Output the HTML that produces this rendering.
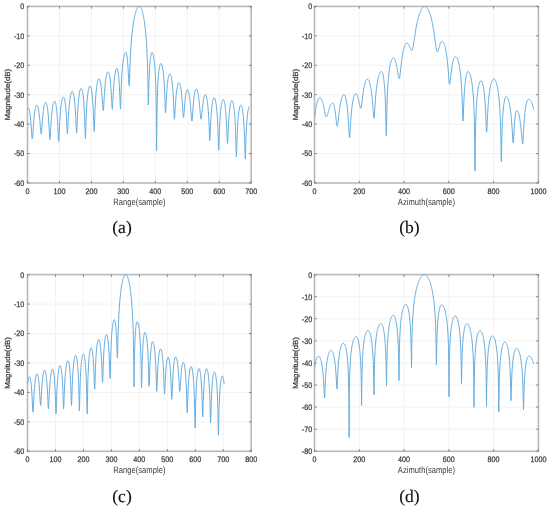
<!DOCTYPE html>
<html><head><meta charset="utf-8"><title>Figure</title><style>
html,body{margin:0;padding:0;background:#fff;}
body{width:550px;height:507px;overflow:hidden;}
svg{display:block;}
.gr{stroke:#f2f2f2;stroke-width:1.0;fill:none;}
.ax{stroke:#b9b9b9;stroke-width:1.6;fill:none;}
.tk{stroke:#808080;stroke-width:1;}
.cv{stroke:#66ade0;stroke-width:1.0;fill:none;stroke-linejoin:round;}
text{font-family:"Liberation Sans",Arial,sans-serif;fill:#3a3a3a;text-rendering:geometricPrecision;}
.xt{font-size:8.0px;text-anchor:middle;stroke:#3a3a3a;stroke-width:0.25;}
.yt{font-size:8.0px;text-anchor:end;stroke:#3a3a3a;stroke-width:0.25;}
.xl{font-size:9.2px;text-anchor:middle;}
.yl{font-size:9.2px;text-anchor:middle;stroke:#3a3a3a;stroke-width:0.3;}
.cap{font-family:"Liberation Serif","Times New Roman",serif;font-size:17.5px;text-anchor:middle;fill:#111;stroke:#111;stroke-width:0.15;}
</style></head>
<body><svg width="550" height="507" viewBox="0 0 550 507">
<rect x="0" y="0" width="550" height="507" fill="#fff"/>
<line x1="59.46" y1="6.4" x2="59.46" y2="183" class="gr"/>
<line x1="91.41" y1="6.4" x2="91.41" y2="183" class="gr"/>
<line x1="123.37" y1="6.4" x2="123.37" y2="183" class="gr"/>
<line x1="155.33" y1="6.4" x2="155.33" y2="183" class="gr"/>
<line x1="187.29" y1="6.4" x2="187.29" y2="183" class="gr"/>
<line x1="219.24" y1="6.4" x2="219.24" y2="183" class="gr"/>
<line x1="27.5" y1="35.83" x2="251.2" y2="35.83" class="gr"/>
<line x1="27.5" y1="65.27" x2="251.2" y2="65.27" class="gr"/>
<line x1="27.5" y1="94.7" x2="251.2" y2="94.7" class="gr"/>
<line x1="27.5" y1="124.13" x2="251.2" y2="124.13" class="gr"/>
<line x1="27.5" y1="153.57" x2="251.2" y2="153.57" class="gr"/>
<rect x="27.5" y="6.4" width="223.7" height="176.6" class="ax"/>
<line x1="27.5" y1="183" x2="27.5" y2="180.8" class="tk"/>
<line x1="27.5" y1="6.4" x2="27.5" y2="8.6" class="tk"/>
<text transform="translate(27.5,193.6) scale(0.9,1)" class="xt">0</text>
<line x1="59.46" y1="183" x2="59.46" y2="180.8" class="tk"/>
<line x1="59.46" y1="6.4" x2="59.46" y2="8.6" class="tk"/>
<text transform="translate(59.46,193.6) scale(0.9,1)" class="xt">100</text>
<line x1="91.41" y1="183" x2="91.41" y2="180.8" class="tk"/>
<line x1="91.41" y1="6.4" x2="91.41" y2="8.6" class="tk"/>
<text transform="translate(91.41,193.6) scale(0.9,1)" class="xt">200</text>
<line x1="123.37" y1="183" x2="123.37" y2="180.8" class="tk"/>
<line x1="123.37" y1="6.4" x2="123.37" y2="8.6" class="tk"/>
<text transform="translate(123.37,193.6) scale(0.9,1)" class="xt">300</text>
<line x1="155.33" y1="183" x2="155.33" y2="180.8" class="tk"/>
<line x1="155.33" y1="6.4" x2="155.33" y2="8.6" class="tk"/>
<text transform="translate(155.33,193.6) scale(0.9,1)" class="xt">400</text>
<line x1="187.29" y1="183" x2="187.29" y2="180.8" class="tk"/>
<line x1="187.29" y1="6.4" x2="187.29" y2="8.6" class="tk"/>
<text transform="translate(187.29,193.6) scale(0.9,1)" class="xt">500</text>
<line x1="219.24" y1="183" x2="219.24" y2="180.8" class="tk"/>
<line x1="219.24" y1="6.4" x2="219.24" y2="8.6" class="tk"/>
<text transform="translate(219.24,193.6) scale(0.9,1)" class="xt">600</text>
<line x1="251.2" y1="183" x2="251.2" y2="180.8" class="tk"/>
<line x1="251.2" y1="6.4" x2="251.2" y2="8.6" class="tk"/>
<text transform="translate(251.2,193.6) scale(0.9,1)" class="xt">700</text>
<line x1="27.5" y1="6.4" x2="29.7" y2="6.4" class="tk"/>
<line x1="251.2" y1="6.4" x2="249" y2="6.4" class="tk"/>
<text transform="translate(24.3,9.3) scale(0.9,1)" class="yt">0</text>
<line x1="27.5" y1="35.83" x2="29.7" y2="35.83" class="tk"/>
<line x1="251.2" y1="35.83" x2="249" y2="35.83" class="tk"/>
<text transform="translate(24.3,38.73) scale(0.9,1)" class="yt">-10</text>
<line x1="27.5" y1="65.27" x2="29.7" y2="65.27" class="tk"/>
<line x1="251.2" y1="65.27" x2="249" y2="65.27" class="tk"/>
<text transform="translate(24.3,68.17) scale(0.9,1)" class="yt">-20</text>
<line x1="27.5" y1="94.7" x2="29.7" y2="94.7" class="tk"/>
<line x1="251.2" y1="94.7" x2="249" y2="94.7" class="tk"/>
<text transform="translate(24.3,97.6) scale(0.9,1)" class="yt">-30</text>
<line x1="27.5" y1="124.13" x2="29.7" y2="124.13" class="tk"/>
<line x1="251.2" y1="124.13" x2="249" y2="124.13" class="tk"/>
<text transform="translate(24.3,127.03) scale(0.9,1)" class="yt">-40</text>
<line x1="27.5" y1="153.57" x2="29.7" y2="153.57" class="tk"/>
<line x1="251.2" y1="153.57" x2="249" y2="153.57" class="tk"/>
<text transform="translate(24.3,156.47) scale(0.9,1)" class="yt">-50</text>
<line x1="27.5" y1="183" x2="29.7" y2="183" class="tk"/>
<line x1="251.2" y1="183" x2="249" y2="183" class="tk"/>
<text transform="translate(24.3,185.9) scale(0.9,1)" class="yt">-60</text>
<path class="cv" d="M28.20,107.80 L28.46,107.91 L28.71,108.25 L28.97,108.82 L29.22,109.63 L29.48,110.70 L29.74,112.03 L29.99,113.65 L30.25,115.59 L30.51,117.88 L30.76,120.55 L31.02,123.63 L31.27,127.11 L31.53,130.91 L31.79,134.71 L32.04,137.77 L32.30,139.00 L32.55,137.78 L32.80,134.72 L33.05,130.91 L33.30,127.07 L33.55,123.53 L33.80,120.37 L34.05,117.59 L34.30,115.18 L34.55,113.09 L34.80,111.29 L35.05,109.77 L35.30,108.48 L35.55,107.42 L35.80,106.57 L36.05,105.92 L36.30,105.46 L36.55,105.19 L36.80,105.10 L37.06,105.20 L37.32,105.49 L37.58,105.99 L37.84,106.69 L38.09,107.60 L38.35,108.74 L38.61,110.12 L38.87,111.75 L39.13,113.66 L39.39,115.87 L39.65,118.39 L39.91,121.21 L40.16,124.31 L40.42,127.54 L40.68,130.59 L40.94,132.91 L41.20,133.80 L41.45,132.80 L41.70,130.24 L41.95,126.91 L42.20,123.45 L42.45,120.17 L42.70,117.19 L42.95,114.55 L43.20,112.23 L43.45,110.21 L43.70,108.46 L43.95,106.97 L44.20,105.72 L44.45,104.68 L44.70,103.85 L44.95,103.21 L45.20,102.76 L45.45,102.49 L45.70,102.40 L45.96,102.52 L46.23,102.87 L46.49,103.46 L46.75,104.31 L47.01,105.42 L47.27,106.81 L47.54,108.53 L47.80,110.59 L48.06,113.05 L48.33,115.97 L48.59,119.41 L48.85,123.46 L49.11,128.12 L49.38,133.17 L49.64,137.71 L49.90,139.70 L50.16,137.95 L50.42,133.83 L50.68,129.08 L50.94,124.59 L51.21,120.61 L51.47,117.16 L51.73,114.19 L51.99,111.64 L52.25,109.45 L52.51,107.58 L52.77,106.00 L53.03,104.67 L53.29,103.58 L53.56,102.71 L53.82,102.04 L54.08,101.57 L54.34,101.29 L54.60,101.20 L54.86,101.32 L55.11,101.67 L55.37,102.28 L55.62,103.13 L55.88,104.26 L56.14,105.68 L56.39,107.42 L56.65,109.53 L56.91,112.05 L57.16,115.06 L57.42,118.64 L57.68,122.91 L57.93,127.95 L58.19,133.62 L58.44,139.01 L58.70,141.50 L58.95,139.03 L59.21,133.66 L59.46,127.96 L59.71,122.87 L59.96,118.51 L60.22,114.79 L60.47,111.63 L60.72,108.92 L60.97,106.60 L61.23,104.61 L61.48,102.92 L61.73,101.48 L61.98,100.27 L62.24,99.27 L62.49,98.48 L62.74,97.87 L62.99,97.44 L63.25,97.18 L63.50,97.10 L63.76,97.23 L64.02,97.63 L64.28,98.31 L64.54,99.27 L64.80,100.53 L65.06,102.14 L65.32,104.11 L65.58,106.50 L65.84,109.36 L66.10,112.79 L66.36,116.84 L66.62,121.56 L66.88,126.76 L67.14,131.50 L67.40,133.60 L67.66,131.50 L67.92,126.75 L68.17,121.51 L68.43,116.68 L68.69,112.48 L68.95,108.87 L69.21,105.77 L69.46,103.11 L69.72,100.82 L69.98,98.85 L70.24,97.17 L70.49,95.74 L70.75,94.55 L71.01,93.56 L71.27,92.77 L71.53,92.16 L71.78,91.74 L72.04,91.48 L72.30,91.40 L72.55,91.51 L72.81,91.82 L73.06,92.36 L73.31,93.11 L73.56,94.11 L73.82,95.36 L74.07,96.89 L74.32,98.73 L74.58,100.92 L74.83,103.51 L75.08,106.58 L75.34,110.21 L75.59,114.50 L75.84,119.54 L76.09,125.20 L76.35,130.54 L76.60,133.00 L76.86,130.24 L77.11,124.41 L77.37,118.43 L77.62,113.18 L77.88,108.74 L78.13,105.00 L78.39,101.84 L78.64,99.16 L78.90,96.88 L79.16,94.94 L79.41,93.31 L79.67,91.95 L79.92,90.83 L80.18,89.94 L80.43,89.26 L80.69,88.78 L80.94,88.49 L81.20,88.40 L81.46,88.52 L81.73,88.89 L81.99,89.50 L82.25,90.38 L82.51,91.54 L82.78,93.01 L83.04,94.81 L83.30,97.01 L83.56,99.66 L83.83,102.87 L84.09,106.77 L84.35,111.56 L84.61,117.52 L84.88,124.98 L85.14,133.54 L85.40,138.50 L85.66,133.71 L85.91,125.33 L86.17,117.92 L86.42,111.93 L86.68,107.09 L86.93,103.10 L87.19,99.79 L87.44,97.00 L87.70,94.65 L87.96,92.67 L88.21,91.00 L88.47,89.61 L88.72,88.47 L88.98,87.56 L89.23,86.87 L89.49,86.38 L89.74,86.10 L90.00,86.00 L90.26,86.12 L90.53,86.48 L90.79,87.09 L91.05,87.96 L91.31,89.11 L91.58,90.56 L91.84,92.34 L92.10,94.50 L92.36,97.11 L92.62,100.24 L92.89,104.02 L93.15,108.61 L93.41,114.20 L93.67,120.90 L93.94,127.95 L94.20,131.60 L94.46,126.75 L94.72,118.30 L94.98,110.85 L95.24,104.85 L95.51,100.00 L95.77,96.01 L96.03,92.70 L96.29,89.91 L96.55,87.55 L96.81,85.57 L97.07,83.90 L97.33,82.51 L97.59,81.37 L97.86,80.46 L98.12,79.77 L98.38,79.28 L98.64,79.00 L98.90,78.90 L99.16,79.00 L99.42,79.30 L99.68,79.81 L99.94,80.53 L100.19,81.47 L100.45,82.64 L100.71,84.07 L100.97,85.77 L101.23,87.77 L101.49,90.10 L101.75,92.78 L102.01,95.84 L102.26,99.26 L102.52,102.95 L102.78,106.58 L103.04,109.46 L103.30,110.60 L103.56,108.81 L103.82,104.61 L104.08,99.80 L104.34,95.27 L104.61,91.27 L104.87,87.80 L105.13,84.82 L105.39,82.25 L105.65,80.06 L105.91,78.19 L106.17,76.60 L106.43,75.27 L106.69,74.18 L106.96,73.31 L107.22,72.64 L107.48,72.17 L107.74,71.89 L108.00,71.80 L108.25,71.90 L108.51,72.22 L108.76,72.74 L109.01,73.48 L109.26,74.46 L109.52,75.69 L109.77,77.18 L110.02,78.97 L110.28,81.10 L110.53,83.60 L110.78,86.53 L111.04,89.95 L111.29,93.93 L111.54,98.43 L111.79,103.22 L112.05,107.41 L112.30,109.20 L112.56,107.11 L112.81,102.39 L113.07,97.17 L113.32,92.37 L113.58,88.21 L113.83,84.63 L114.09,81.58 L114.34,78.97 L114.60,76.75 L114.86,74.85 L115.11,73.24 L115.37,71.90 L115.62,70.80 L115.88,69.92 L116.13,69.25 L116.39,68.78 L116.64,68.49 L116.90,68.40 L117.16,68.55 L117.41,69.02 L117.67,69.81 L117.93,70.94 L118.19,72.45 L118.44,74.36 L118.70,76.74 L118.96,79.67 L119.21,83.26 L119.47,87.65 L119.73,93.00 L119.99,99.34 L120.24,105.84 L120.50,109.10 L120.76,103.80 L121.02,94.88 L121.28,87.20 L121.54,81.06 L121.80,76.10 L122.06,72.02 L122.32,68.60 L122.58,65.70 L122.84,63.23 L123.10,61.11 L123.36,59.29 L123.62,57.74 L123.88,56.42 L124.14,55.31 L124.40,54.40 L124.66,53.67 L124.92,53.11 L125.18,52.71 L125.44,52.48 L125.70,52.40 L125.97,52.57 L126.24,53.10 L126.51,53.98 L126.78,55.25 L127.05,56.93 L127.32,59.08 L127.58,61.74 L127.85,65.00 L128.12,68.93 L128.39,73.57 L128.66,78.73 L128.93,83.48 L129.20,85.60 L129.45,82.06 L129.70,74.76 L129.96,67.45 L130.21,61.09 L130.46,55.64 L130.72,50.95 L130.97,46.84 L131.22,43.20 L131.47,39.95 L131.72,37.01 L131.98,34.34 L132.23,31.90 L132.48,29.66 L132.73,27.59 L132.99,25.68 L133.24,23.91 L133.49,22.27 L133.75,20.74 L134.00,19.33 L134.25,18.01 L134.50,16.78 L134.75,15.64 L135.01,14.58 L135.26,13.60 L135.51,12.70 L135.77,11.86 L136.02,11.10 L136.27,10.39 L136.52,9.76 L136.78,9.18 L137.03,8.66 L137.28,8.20 L137.53,7.80 L137.78,7.45 L138.04,7.16 L138.29,6.92 L138.54,6.74 L138.80,6.61 L139.05,6.53 L139.30,6.50 L139.55,6.53 L139.80,6.63 L140.05,6.79 L140.30,7.02 L140.55,7.32 L140.80,7.68 L141.05,8.11 L141.30,8.61 L141.55,9.18 L141.80,9.83 L142.05,10.55 L142.30,11.35 L142.55,12.24 L142.80,13.21 L143.05,14.27 L143.30,15.42 L143.55,16.67 L143.80,18.04 L144.05,19.51 L144.30,21.12 L144.55,22.86 L144.80,24.75 L145.05,26.80 L145.30,29.05 L145.55,31.51 L145.80,34.21 L146.05,37.21 L146.30,40.56 L146.55,44.34 L146.80,48.67 L147.05,53.73 L147.30,59.81 L147.55,67.41 L147.80,77.49 L148.05,91.80 L148.30,105.00 L148.56,97.81 L148.83,87.33 L149.09,79.12 L149.36,72.88 L149.62,68.02 L149.89,64.15 L150.15,61.05 L150.41,58.56 L150.68,56.57 L150.94,55.02 L151.21,53.85 L151.47,53.04 L151.74,52.56 L152.00,52.40 L152.26,52.50 L152.51,52.79 L152.77,53.29 L153.02,53.99 L153.28,54.91 L153.53,56.08 L153.79,57.50 L154.04,59.21 L154.30,61.25 L154.56,63.69 L154.81,66.60 L155.07,70.10 L155.32,74.39 L155.58,79.78 L155.83,86.87 L156.09,96.97 L156.34,114.04 L156.60,150.70 L156.85,122.90 L157.11,106.42 L157.36,96.46 L157.61,89.44 L157.86,84.10 L158.12,79.87 L158.37,76.42 L158.62,73.58 L158.88,71.22 L159.13,69.26 L159.38,67.64 L159.64,66.33 L159.89,65.29 L160.14,64.49 L160.39,63.94 L160.65,63.61 L160.90,63.50 L161.16,63.60 L161.41,63.88 L161.67,64.37 L161.92,65.05 L162.18,65.96 L162.43,67.09 L162.69,68.47 L162.94,70.13 L163.20,72.10 L163.46,74.42 L163.71,77.18 L163.97,80.44 L164.22,84.34 L164.48,89.05 L164.73,94.78 L164.99,101.67 L165.24,109.02 L165.50,112.90 L165.75,110.86 L166.01,106.23 L166.26,101.08 L166.51,96.35 L166.76,92.24 L167.02,88.73 L167.27,85.74 L167.52,83.20 L167.78,81.04 L168.03,79.23 L168.28,77.72 L168.54,76.48 L168.79,75.50 L169.04,74.75 L169.29,74.22 L169.55,73.90 L169.80,73.80 L170.06,73.89 L170.31,74.18 L170.57,74.66 L170.82,75.34 L171.08,76.24 L171.33,77.36 L171.59,78.72 L171.84,80.36 L172.10,82.30 L172.36,84.59 L172.61,87.28 L172.87,90.47 L173.12,94.24 L173.38,98.72 L173.63,104.06 L173.89,110.20 L174.14,116.27 L174.40,119.20 L174.65,117.70 L174.90,114.07 L175.15,109.73 L175.40,105.52 L175.65,101.72 L175.90,98.39 L176.15,95.49 L176.40,92.99 L176.65,90.85 L176.90,89.01 L177.15,87.44 L177.40,86.13 L177.65,85.06 L177.90,84.19 L178.15,83.53 L178.40,83.07 L178.65,82.79 L178.90,82.70 L179.16,82.79 L179.41,83.07 L179.67,83.53 L179.92,84.18 L180.18,85.04 L180.43,86.10 L180.69,87.40 L180.94,88.94 L181.20,90.75 L181.46,92.87 L181.71,95.31 L181.97,98.14 L182.22,101.37 L182.48,105.01 L182.73,109.00 L182.99,113.01 L183.24,116.28 L183.50,117.60 L183.76,116.54 L184.02,113.83 L184.28,110.39 L184.54,106.88 L184.80,103.62 L185.06,100.73 L185.32,98.22 L185.58,96.08 L185.84,94.28 L186.10,92.81 L186.36,91.63 L186.62,90.73 L186.88,90.10 L187.14,89.72 L187.40,89.60 L187.65,89.69 L187.90,89.96 L188.15,90.41 L188.40,91.05 L188.65,91.88 L188.90,92.92 L189.15,94.18 L189.40,95.67 L189.65,97.42 L189.90,99.44 L190.15,101.77 L190.40,104.42 L190.65,107.40 L190.90,110.69 L191.15,114.16 L191.40,117.51 L191.65,120.10 L191.90,121.10 L192.15,119.92 L192.41,116.96 L192.66,113.25 L192.91,109.50 L193.16,106.04 L193.42,102.95 L193.67,100.25 L193.92,97.91 L194.18,95.90 L194.43,94.19 L194.68,92.76 L194.94,91.58 L195.19,90.63 L195.44,89.91 L195.69,89.40 L195.95,89.10 L196.20,89.00 L196.45,89.08 L196.71,89.32 L196.96,89.72 L197.21,90.28 L197.46,91.02 L197.72,91.94 L197.97,93.04 L198.22,94.35 L198.47,95.87 L198.73,97.62 L198.98,99.63 L199.23,101.90 L199.48,104.44 L199.74,107.26 L199.99,110.29 L200.24,113.42 L200.49,116.32 L200.75,118.48 L201.00,119.30 L201.25,118.68 L201.51,117.00 L201.76,114.65 L202.01,112.05 L202.26,109.44 L202.52,106.98 L202.77,104.73 L203.02,102.73 L203.28,100.97 L203.53,99.45 L203.78,98.15 L204.04,97.08 L204.29,96.21 L204.54,95.54 L204.79,95.07 L205.05,94.79 L205.30,94.70 L205.55,94.79 L205.80,95.08 L206.05,95.56 L206.30,96.24 L206.55,97.14 L206.80,98.26 L207.05,99.63 L207.30,101.27 L207.55,103.21 L207.80,105.51 L208.05,108.21 L208.30,111.40 L208.55,115.19 L208.80,119.71 L209.05,125.10 L209.30,131.34 L209.55,137.57 L209.80,140.60 L210.05,137.88 L210.31,132.12 L210.56,126.18 L210.81,120.98 L211.06,116.59 L211.32,112.90 L211.57,109.79 L211.82,107.18 L212.08,104.97 L212.33,103.12 L212.58,101.58 L212.84,100.32 L213.09,99.32 L213.34,98.56 L213.59,98.02 L213.85,97.71 L214.10,97.60 L214.36,97.70 L214.61,97.98 L214.87,98.47 L215.12,99.16 L215.38,100.07 L215.63,101.21 L215.89,102.60 L216.14,104.26 L216.40,106.25 L216.66,108.60 L216.91,111.38 L217.17,114.70 L217.42,118.67 L217.68,123.51 L217.93,129.48 L218.19,136.86 L218.44,145.18 L218.70,149.90 L218.95,145.77 L219.20,138.12 L219.45,131.08 L219.70,125.27 L219.95,120.52 L220.20,116.59 L220.45,113.31 L220.70,110.55 L220.95,108.21 L221.20,106.24 L221.45,104.58 L221.70,103.19 L221.95,102.06 L222.20,101.16 L222.45,100.47 L222.70,99.98 L222.95,99.70 L223.20,99.60 L223.45,99.71 L223.71,100.02 L223.96,100.56 L224.21,101.33 L224.46,102.33 L224.72,103.59 L224.97,105.13 L225.22,106.99 L225.48,109.21 L225.73,111.84 L225.98,114.96 L226.24,118.68 L226.49,123.13 L226.74,128.41 L226.99,134.51 L227.25,140.51 L227.50,143.40 L227.76,140.72 L228.02,135.02 L228.28,129.12 L228.54,123.94 L228.79,119.56 L229.05,115.88 L229.31,112.78 L229.57,110.17 L229.83,107.96 L230.09,106.11 L230.35,104.58 L230.61,103.32 L230.86,102.32 L231.12,101.56 L231.38,101.02 L231.64,100.71 L231.90,100.60 L232.15,100.70 L232.40,100.99 L232.65,101.48 L232.90,102.17 L233.15,103.08 L233.40,104.22 L233.65,105.62 L233.90,107.30 L234.15,109.30 L234.40,111.68 L234.65,114.49 L234.90,117.86 L235.15,121.91 L235.40,126.89 L235.65,133.13 L235.90,141.09 L236.15,150.72 L236.40,156.80 L236.66,151.81 L236.92,143.22 L237.18,135.73 L237.44,129.72 L237.69,124.88 L237.95,120.93 L238.21,117.66 L238.47,114.93 L238.73,112.65 L238.99,110.74 L239.25,109.16 L239.51,107.88 L239.76,106.85 L240.02,106.08 L240.28,105.53 L240.54,105.21 L240.80,105.10 L241.05,105.20 L241.30,105.49 L241.55,105.97 L241.80,106.66 L242.05,107.57 L242.30,108.71 L242.55,110.11 L242.80,111.78 L243.05,113.77 L243.30,116.13 L243.55,118.93 L243.80,122.26 L244.05,126.27 L244.30,131.16 L244.55,137.23 L244.80,144.83 L245.05,153.62 L245.30,158.80 L245.55,153.61 L245.81,144.82 L246.06,137.23 L246.31,131.18 L246.56,126.32 L246.82,122.36 L247.07,119.08 L247.32,116.34 L247.58,114.06 L247.83,112.15 L248.08,110.57 L248.34,109.28 L248.59,108.26 L248.84,107.48 L249.09,106.93 L249.35,106.61 L249.60,106.50"/>
<text transform="translate(139.35,204.7) scale(0.83,1)" class="xl">Range(sample)</text>
<text transform="translate(10.4,94.7) rotate(-90) scale(0.86,0.8)" class="yl">Magnitude(dB)</text>
<text x="122" y="232.7" class="cap">(a)</text>
<line x1="359.28" y1="6.4" x2="359.28" y2="183" class="gr"/>
<line x1="404.06" y1="6.4" x2="404.06" y2="183" class="gr"/>
<line x1="448.84" y1="6.4" x2="448.84" y2="183" class="gr"/>
<line x1="493.62" y1="6.4" x2="493.62" y2="183" class="gr"/>
<line x1="314.5" y1="35.83" x2="538.4" y2="35.83" class="gr"/>
<line x1="314.5" y1="65.27" x2="538.4" y2="65.27" class="gr"/>
<line x1="314.5" y1="94.7" x2="538.4" y2="94.7" class="gr"/>
<line x1="314.5" y1="124.13" x2="538.4" y2="124.13" class="gr"/>
<line x1="314.5" y1="153.57" x2="538.4" y2="153.57" class="gr"/>
<rect x="314.5" y="6.4" width="223.9" height="176.6" class="ax"/>
<line x1="314.5" y1="183" x2="314.5" y2="180.8" class="tk"/>
<line x1="314.5" y1="6.4" x2="314.5" y2="8.6" class="tk"/>
<text transform="translate(314.5,193.6) scale(0.9,1)" class="xt">0</text>
<line x1="359.28" y1="183" x2="359.28" y2="180.8" class="tk"/>
<line x1="359.28" y1="6.4" x2="359.28" y2="8.6" class="tk"/>
<text transform="translate(359.28,193.6) scale(0.9,1)" class="xt">200</text>
<line x1="404.06" y1="183" x2="404.06" y2="180.8" class="tk"/>
<line x1="404.06" y1="6.4" x2="404.06" y2="8.6" class="tk"/>
<text transform="translate(404.06,193.6) scale(0.9,1)" class="xt">400</text>
<line x1="448.84" y1="183" x2="448.84" y2="180.8" class="tk"/>
<line x1="448.84" y1="6.4" x2="448.84" y2="8.6" class="tk"/>
<text transform="translate(448.84,193.6) scale(0.9,1)" class="xt">600</text>
<line x1="493.62" y1="183" x2="493.62" y2="180.8" class="tk"/>
<line x1="493.62" y1="6.4" x2="493.62" y2="8.6" class="tk"/>
<text transform="translate(493.62,193.6) scale(0.9,1)" class="xt">800</text>
<line x1="538.4" y1="183" x2="538.4" y2="180.8" class="tk"/>
<line x1="538.4" y1="6.4" x2="538.4" y2="8.6" class="tk"/>
<text transform="translate(538.4,193.6) scale(0.9,1)" class="xt">1000</text>
<line x1="314.5" y1="6.4" x2="316.7" y2="6.4" class="tk"/>
<line x1="538.4" y1="6.4" x2="536.2" y2="6.4" class="tk"/>
<text transform="translate(312.2,9.3) scale(0.9,1)" class="yt">0</text>
<line x1="314.5" y1="35.83" x2="316.7" y2="35.83" class="tk"/>
<line x1="538.4" y1="35.83" x2="536.2" y2="35.83" class="tk"/>
<text transform="translate(312.2,38.73) scale(0.9,1)" class="yt">-10</text>
<line x1="314.5" y1="65.27" x2="316.7" y2="65.27" class="tk"/>
<line x1="538.4" y1="65.27" x2="536.2" y2="65.27" class="tk"/>
<text transform="translate(312.2,68.17) scale(0.9,1)" class="yt">-20</text>
<line x1="314.5" y1="94.7" x2="316.7" y2="94.7" class="tk"/>
<line x1="538.4" y1="94.7" x2="536.2" y2="94.7" class="tk"/>
<text transform="translate(312.2,97.6) scale(0.9,1)" class="yt">-30</text>
<line x1="314.5" y1="124.13" x2="316.7" y2="124.13" class="tk"/>
<line x1="538.4" y1="124.13" x2="536.2" y2="124.13" class="tk"/>
<text transform="translate(312.2,127.03) scale(0.9,1)" class="yt">-40</text>
<line x1="314.5" y1="153.57" x2="316.7" y2="153.57" class="tk"/>
<line x1="538.4" y1="153.57" x2="536.2" y2="153.57" class="tk"/>
<text transform="translate(312.2,156.47) scale(0.9,1)" class="yt">-50</text>
<line x1="314.5" y1="183" x2="316.7" y2="183" class="tk"/>
<line x1="538.4" y1="183" x2="536.2" y2="183" class="tk"/>
<text transform="translate(312.2,185.9) scale(0.9,1)" class="yt">-60</text>
<path class="cv" d="M314.61,117.78 L314.87,115.44 L315.12,113.32 L315.37,111.40 L315.62,109.66 L315.87,108.09 L316.12,106.67 L316.38,105.38 L316.63,104.21 L316.88,103.16 L317.13,102.22 L317.38,101.38 L317.63,100.64 L317.89,99.98 L318.14,99.41 L318.39,98.92 L318.64,98.51 L318.89,98.18 L319.14,97.93 L319.40,97.74 L319.65,97.64 L319.90,97.60 L320.15,97.64 L320.40,97.76 L320.66,97.95 L320.91,98.23 L321.16,98.59 L321.41,99.03 L321.66,99.55 L321.92,100.15 L322.17,100.84 L322.42,101.61 L322.67,102.46 L322.92,103.41 L323.18,104.43 L323.43,105.54 L323.68,106.72 L323.93,107.96 L324.18,109.26 L324.44,110.58 L324.69,111.91 L324.94,113.19 L325.19,114.38 L325.44,115.41 L325.70,116.21 L325.95,116.72 L326.20,116.90 L326.45,116.81 L326.70,116.54 L326.95,116.12 L327.20,115.55 L327.45,114.87 L327.70,114.11 L327.95,113.28 L328.20,112.42 L328.45,111.55 L328.70,110.68 L328.95,109.83 L329.20,109.00 L329.45,108.22 L329.70,107.48 L329.95,106.80 L330.20,106.16 L330.45,105.59 L330.70,105.07 L330.95,104.61 L331.20,104.21 L331.45,103.87 L331.70,103.59 L331.95,103.38 L332.20,103.22 L332.45,103.13 L332.70,103.10 L332.95,103.18 L333.20,103.43 L333.45,103.84 L333.70,104.42 L333.95,105.17 L334.20,106.10 L334.45,107.21 L334.70,108.52 L334.95,110.02 L335.20,111.72 L335.45,113.62 L335.70,115.70 L335.95,117.93 L336.20,120.23 L336.45,122.45 L336.70,124.37 L336.95,125.71 L337.20,126.20 L337.45,125.74 L337.70,124.47 L337.96,122.61 L338.21,120.42 L338.46,118.10 L338.71,115.79 L338.96,113.56 L339.21,111.47 L339.47,109.52 L339.72,107.71 L339.97,106.06 L340.22,104.54 L340.47,103.16 L340.73,101.90 L340.98,100.77 L341.23,99.75 L341.48,98.83 L341.73,98.02 L341.99,97.30 L342.24,96.68 L342.49,96.15 L342.74,95.70 L342.99,95.34 L343.24,95.06 L343.50,94.86 L343.75,94.74 L344.00,94.70 L344.25,94.76 L344.50,94.95 L344.75,95.27 L345.00,95.72 L345.25,96.31 L345.50,97.03 L345.75,97.91 L346.00,98.94 L346.25,100.15 L346.50,101.54 L346.75,103.14 L347.00,104.96 L347.25,107.04 L347.50,109.42 L347.75,112.13 L348.00,115.24 L348.25,118.80 L348.50,122.86 L348.75,127.40 L349.00,132.16 L349.25,136.26 L349.50,138.00 L349.75,136.53 L350.00,132.93 L350.26,128.59 L350.51,124.32 L350.76,120.41 L351.01,116.92 L351.26,113.84 L351.52,111.11 L351.77,108.70 L352.02,106.55 L352.27,104.64 L352.52,102.94 L352.78,101.43 L353.03,100.09 L353.28,98.91 L353.53,97.87 L353.78,96.96 L354.04,96.17 L354.29,95.50 L354.54,94.94 L354.79,94.49 L355.04,94.14 L355.30,93.90 L355.55,93.75 L355.80,93.70 L356.06,93.75 L356.31,93.91 L356.56,94.18 L356.82,94.56 L357.07,95.04 L357.33,95.63 L357.58,96.33 L357.84,97.13 L358.09,98.03 L358.35,99.02 L358.61,100.10 L358.86,101.24 L359.12,102.43 L359.37,103.64 L359.62,104.82 L359.88,105.93 L360.13,106.89 L360.39,107.65 L360.64,108.13 L360.90,108.30 L361.15,107.90 L361.40,106.76 L361.65,105.08 L361.90,103.07 L362.15,100.93 L362.40,98.76 L362.65,96.66 L362.90,94.67 L363.15,92.81 L363.40,91.08 L363.65,89.49 L363.90,88.04 L364.15,86.72 L364.40,85.52 L364.65,84.44 L364.90,83.47 L365.15,82.61 L365.40,81.86 L365.65,81.20 L365.90,80.63 L366.15,80.16 L366.40,79.78 L366.65,79.48 L366.90,79.27 L367.15,79.14 L367.40,79.10 L367.65,79.14 L367.91,79.28 L368.16,79.50 L368.42,79.82 L368.67,80.23 L368.92,80.73 L369.18,81.34 L369.43,82.05 L369.68,82.86 L369.94,83.80 L370.19,84.85 L370.45,86.04 L370.70,87.37 L370.95,88.86 L371.21,90.51 L371.46,92.36 L371.72,94.40 L371.97,96.68 L372.22,99.20 L372.48,101.99 L372.73,105.05 L372.98,108.34 L373.24,111.72 L373.49,114.90 L373.75,117.29 L374.00,118.20 L374.25,116.95 L374.50,113.80 L374.75,109.86 L375.00,105.86 L375.25,102.12 L375.50,98.72 L375.75,95.67 L376.00,92.93 L376.25,90.47 L376.50,88.26 L376.75,86.27 L377.00,84.47 L377.25,82.84 L377.50,81.37 L377.75,80.03 L378.00,78.82 L378.25,77.73 L378.50,76.74 L378.75,75.86 L379.00,75.07 L379.25,74.36 L379.50,73.75 L379.75,73.21 L380.00,72.75 L380.25,72.36 L380.50,72.05 L380.75,71.81 L381.00,71.64 L381.25,71.53 L381.50,71.50 L381.75,71.59 L382.01,71.85 L382.26,72.29 L382.51,72.91 L382.76,73.73 L383.02,74.76 L383.27,76.01 L383.52,77.50 L383.77,79.27 L384.03,81.36 L384.28,83.82 L384.53,86.73 L384.78,90.19 L385.04,94.38 L385.29,99.55 L385.54,106.14 L385.79,114.87 L386.05,126.56 L386.30,135.50 L386.55,124.59 L386.81,111.83 L387.06,102.69 L387.31,95.86 L387.57,90.48 L387.82,86.08 L388.07,82.38 L388.33,79.22 L388.58,76.47 L388.84,74.06 L389.09,71.93 L389.34,70.03 L389.60,68.34 L389.85,66.83 L390.10,65.48 L390.36,64.27 L390.61,63.20 L390.86,62.24 L391.12,61.40 L391.37,60.66 L391.62,60.02 L391.88,59.47 L392.13,59.02 L392.39,58.65 L392.64,58.36 L392.89,58.16 L393.15,58.04 L393.40,58.00 L393.66,58.05 L393.91,58.19 L394.17,58.43 L394.43,58.77 L394.68,59.20 L394.94,59.74 L395.20,60.37 L395.45,61.11 L395.71,61.96 L395.97,62.91 L396.22,63.97 L396.48,65.13 L396.73,66.40 L396.99,67.77 L397.25,69.22 L397.50,70.74 L397.76,72.30 L398.02,73.85 L398.27,75.33 L398.53,76.64 L398.79,77.68 L399.04,78.36 L399.30,78.60 L399.55,78.12 L399.80,76.77 L400.05,74.81 L400.31,72.51 L400.56,70.08 L400.81,67.67 L401.06,65.36 L401.31,63.17 L401.56,61.13 L401.82,59.23 L402.07,57.48 L402.32,55.87 L402.57,54.39 L402.82,53.02 L403.07,51.77 L403.33,50.63 L403.58,49.58 L403.83,48.63 L404.08,47.77 L404.33,46.99 L404.58,46.29 L404.84,45.67 L405.09,45.12 L405.34,44.63 L405.59,44.22 L405.84,43.88 L406.09,43.60 L406.35,43.38 L406.60,43.22 L406.85,43.13 L407.10,43.10 L407.35,43.14 L407.61,43.25 L407.86,43.44 L408.11,43.71 L408.36,44.04 L408.62,44.44 L408.87,44.90 L409.12,45.42 L409.37,45.98 L409.63,46.57 L409.88,47.19 L410.13,47.81 L410.38,48.41 L410.64,48.98 L410.89,49.48 L411.14,49.91 L411.39,50.23 L411.65,50.43 L411.90,50.50 L412.15,50.35 L412.40,49.90 L412.65,49.14 L412.90,48.11 L413.15,46.83 L413.40,45.38 L413.65,43.80 L413.90,42.13 L414.15,40.42 L414.40,38.70 L414.65,37.00 L414.90,35.32 L415.15,33.69 L415.40,32.11 L415.65,30.58 L415.90,29.11 L416.15,27.69 L416.40,26.34 L416.65,25.04 L416.90,23.80 L417.15,22.61 L417.40,21.48 L417.65,20.40 L417.90,19.37 L418.15,18.39 L418.40,17.46 L418.65,16.57 L418.90,15.73 L419.15,14.93 L419.40,14.18 L419.65,13.46 L419.90,12.78 L420.15,12.15 L420.40,11.55 L420.65,10.99 L420.90,10.46 L421.15,9.97 L421.40,9.51 L421.65,9.09 L421.90,8.70 L422.15,8.34 L422.40,8.02 L422.65,7.73 L422.90,7.47 L423.15,7.24 L423.40,7.04 L423.65,6.88 L423.90,6.74 L424.15,6.64 L424.40,6.56 L424.65,6.52 L424.90,6.50 L425.15,6.52 L425.41,6.57 L425.66,6.65 L425.91,6.77 L426.17,6.93 L426.42,7.11 L426.67,7.34 L426.92,7.60 L427.18,7.89 L427.43,8.22 L427.68,8.59 L427.94,8.99 L428.19,9.43 L428.44,9.91 L428.70,10.43 L428.95,10.99 L429.20,11.59 L429.46,12.23 L429.71,12.92 L429.96,13.65 L430.21,14.42 L430.47,15.24 L430.72,16.11 L430.97,17.03 L431.23,18.01 L431.48,19.03 L431.73,20.11 L431.99,21.25 L432.24,22.45 L432.49,23.72 L432.74,25.04 L433.00,26.43 L433.25,27.90 L433.50,29.43 L433.76,31.03 L434.01,32.70 L434.26,34.44 L434.52,36.24 L434.77,38.09 L435.02,39.98 L435.28,41.89 L435.53,43.78 L435.78,45.61 L436.03,47.32 L436.29,48.85 L436.54,50.11 L436.79,51.05 L437.05,51.62 L437.30,51.80 L437.56,51.68 L437.82,51.32 L438.08,50.77 L438.34,50.05 L438.61,49.21 L438.87,48.31 L439.13,47.38 L439.39,46.46 L439.65,45.57 L439.91,44.74 L440.17,43.99 L440.43,43.32 L440.69,42.74 L440.96,42.26 L441.22,41.89 L441.48,41.62 L441.74,41.45 L442.00,41.40 L442.25,41.43 L442.50,41.54 L442.75,41.71 L443.00,41.95 L443.25,42.25 L443.50,42.64 L443.75,43.09 L444.00,43.62 L444.25,44.24 L444.50,44.93 L444.75,45.71 L445.00,46.59 L445.25,47.56 L445.50,48.64 L445.75,49.83 L446.00,51.14 L446.25,52.59 L446.50,54.18 L446.75,55.93 L447.00,57.87 L447.25,60.00 L447.50,62.36 L447.75,64.96 L448.00,67.82 L448.25,70.96 L448.50,74.33 L448.75,77.80 L449.00,81.07 L449.25,83.55 L449.50,84.50 L449.76,84.04 L450.01,82.76 L450.27,80.90 L450.53,78.71 L450.78,76.41 L451.04,74.14 L451.30,71.97 L451.55,69.94 L451.81,68.07 L452.07,66.36 L452.32,64.81 L452.58,63.42 L452.83,62.17 L453.09,61.07 L453.35,60.10 L453.60,59.26 L453.86,58.54 L454.12,57.94 L454.37,57.45 L454.63,57.08 L454.89,56.81 L455.14,56.65 L455.40,56.60 L455.65,56.63 L455.91,56.74 L456.16,56.91 L456.41,57.16 L456.67,57.48 L456.92,57.87 L457.17,58.34 L457.43,58.90 L457.68,59.53 L457.93,60.25 L458.19,61.06 L458.44,61.97 L458.69,62.99 L458.95,64.12 L459.20,65.38 L459.45,66.77 L459.71,68.31 L459.96,70.03 L460.21,71.94 L460.47,74.07 L460.72,76.47 L460.97,79.19 L461.23,82.28 L461.48,85.86 L461.73,90.05 L461.99,95.04 L462.24,101.09 L462.49,108.43 L462.75,116.52 L463.00,121.00 L463.25,117.75 L463.50,111.21 L463.75,104.75 L464.00,99.22 L464.25,94.59 L464.50,90.70 L464.75,87.41 L465.00,84.59 L465.25,82.18 L465.50,80.10 L465.75,78.31 L466.00,76.78 L466.25,75.48 L466.50,74.38 L466.75,73.48 L467.00,72.75 L467.25,72.20 L467.50,71.81 L467.75,71.58 L468.00,71.50 L468.25,71.54 L468.50,71.66 L468.75,71.86 L469.00,72.15 L469.25,72.52 L469.50,72.98 L469.75,73.52 L470.00,74.16 L470.25,74.91 L470.50,75.75 L470.75,76.71 L471.00,77.79 L471.25,79.00 L471.50,80.35 L471.75,81.87 L472.00,83.57 L472.25,85.47 L472.50,87.62 L472.75,90.05 L473.00,92.82 L473.25,96.03 L473.50,99.78 L473.75,104.27 L474.00,109.82 L474.25,117.00 L474.50,127.06 L474.75,143.57 L475.00,171.00 L475.25,148.18 L475.50,132.24 L475.75,122.31 L476.00,115.20 L476.25,109.72 L476.50,105.29 L476.75,101.61 L477.00,98.49 L477.25,95.80 L477.50,93.47 L477.75,91.43 L478.00,89.65 L478.25,88.08 L478.50,86.71 L478.75,85.51 L479.00,84.47 L479.25,83.58 L479.50,82.82 L479.75,82.19 L480.00,81.69 L480.25,81.30 L480.50,81.02 L480.75,80.85 L481.00,80.80 L481.25,80.86 L481.51,81.06 L481.76,81.38 L482.02,81.84 L482.27,82.43 L482.53,83.17 L482.78,84.07 L483.04,85.13 L483.29,86.36 L483.55,87.79 L483.80,89.43 L484.05,91.32 L484.31,93.49 L484.56,95.98 L484.82,98.86 L485.07,102.21 L485.33,106.14 L485.58,110.79 L485.84,116.31 L486.09,122.71 L486.35,129.14 L486.60,132.30 L486.86,129.97 L487.11,124.80 L487.37,119.20 L487.63,114.10 L487.89,109.65 L488.14,105.80 L488.40,102.45 L488.66,99.52 L488.91,96.94 L489.17,94.64 L489.43,92.60 L489.69,90.77 L489.94,89.13 L490.20,87.66 L490.46,86.35 L490.71,85.17 L490.97,84.11 L491.23,83.18 L491.49,82.35 L491.74,81.62 L492.00,80.99 L492.26,80.45 L492.51,80.00 L492.77,79.64 L493.03,79.36 L493.29,79.16 L493.54,79.04 L493.80,79.00 L494.05,79.04 L494.30,79.14 L494.55,79.32 L494.80,79.56 L495.05,79.88 L495.30,80.28 L495.55,80.75 L495.80,81.31 L496.05,81.95 L496.30,82.67 L496.55,83.49 L496.80,84.41 L497.05,85.43 L497.30,86.57 L497.55,87.84 L497.80,89.25 L498.05,90.81 L498.30,92.55 L498.55,94.49 L498.80,96.66 L499.05,99.11 L499.30,101.90 L499.55,105.10 L499.80,108.84 L500.05,113.29 L500.30,118.73 L500.55,125.67 L500.80,135.08 L501.05,148.77 L501.30,161.90 L501.55,152.34 L501.81,140.30 L502.06,131.45 L502.31,124.81 L502.56,119.62 L502.82,115.42 L503.07,111.95 L503.32,109.03 L503.57,106.57 L503.83,104.48 L504.08,102.71 L504.33,101.21 L504.58,99.96 L504.84,98.93 L505.09,98.11 L505.34,97.49 L505.59,97.05 L505.85,96.79 L506.10,96.70 L506.35,96.74 L506.61,96.86 L506.86,97.05 L507.11,97.33 L507.37,97.69 L507.62,98.13 L507.88,98.67 L508.13,99.29 L508.38,100.00 L508.64,100.82 L508.89,101.74 L509.14,102.77 L509.40,103.93 L509.65,105.22 L509.90,106.65 L510.16,108.25 L510.41,110.02 L510.66,111.99 L510.92,114.19 L511.17,116.64 L511.43,119.39 L511.68,122.48 L511.93,125.94 L512.19,129.79 L512.44,133.95 L512.69,138.13 L512.95,141.52 L513.20,142.90 L513.45,141.16 L513.70,137.09 L513.95,132.44 L514.20,128.09 L514.45,124.29 L514.70,121.08 L514.95,118.38 L515.20,116.16 L515.45,114.36 L515.70,112.93 L515.95,111.85 L516.20,111.10 L516.45,110.65 L516.70,110.50 L516.95,110.55 L517.20,110.70 L517.45,110.96 L517.70,111.32 L517.95,111.79 L518.20,112.37 L518.45,113.06 L518.70,113.87 L518.95,114.81 L519.20,115.89 L519.45,117.10 L519.70,118.47 L519.95,120.00 L520.20,121.71 L520.45,123.61 L520.70,125.71 L520.95,128.03 L521.20,130.57 L521.45,133.30 L521.70,136.16 L521.95,139.01 L522.20,141.57 L522.45,143.42 L522.70,144.10 L522.95,142.30 L523.20,138.07 L523.46,133.20 L523.71,128.58 L523.96,124.46 L524.21,120.85 L524.47,117.70 L524.72,114.95 L524.97,112.53 L525.22,110.40 L525.47,108.53 L525.73,106.89 L525.98,105.44 L526.23,104.18 L526.48,103.08 L526.73,102.14 L526.99,101.34 L527.24,100.67 L527.49,100.14 L527.74,99.72 L528.00,99.43 L528.25,99.26 L528.50,99.20 L528.75,99.22 L529.00,99.28 L529.25,99.39 L529.50,99.54 L529.75,99.73 L530.00,99.96 L530.25,100.24 L530.50,100.56 L530.75,100.93 L531.00,101.35 L531.25,101.81 L531.50,102.33 L531.75,102.90 L532.00,103.52 L532.25,104.20 L532.50,104.94 L532.75,105.74 L533.00,106.61 L533.25,107.55 L533.50,108.56 L533.75,109.65"/>
<text transform="translate(426.45,204.7) scale(0.83,1)" class="xl">Azimuth(sample)</text>
<text transform="translate(298,94.7) rotate(-90) scale(0.86,0.8)" class="yl">Magnitude(dB)</text>
<text x="409.5" y="232.7" class="cap">(b)</text>
<line x1="55.46" y1="274.6" x2="55.46" y2="451.3" class="gr"/>
<line x1="83.42" y1="274.6" x2="83.42" y2="451.3" class="gr"/>
<line x1="111.39" y1="274.6" x2="111.39" y2="451.3" class="gr"/>
<line x1="139.35" y1="274.6" x2="139.35" y2="451.3" class="gr"/>
<line x1="167.31" y1="274.6" x2="167.31" y2="451.3" class="gr"/>
<line x1="195.27" y1="274.6" x2="195.27" y2="451.3" class="gr"/>
<line x1="223.24" y1="274.6" x2="223.24" y2="451.3" class="gr"/>
<line x1="27.5" y1="304.05" x2="251.2" y2="304.05" class="gr"/>
<line x1="27.5" y1="333.5" x2="251.2" y2="333.5" class="gr"/>
<line x1="27.5" y1="362.95" x2="251.2" y2="362.95" class="gr"/>
<line x1="27.5" y1="392.4" x2="251.2" y2="392.4" class="gr"/>
<line x1="27.5" y1="421.85" x2="251.2" y2="421.85" class="gr"/>
<rect x="27.5" y="274.6" width="223.7" height="176.7" class="ax"/>
<line x1="27.5" y1="451.3" x2="27.5" y2="449.1" class="tk"/>
<line x1="27.5" y1="274.6" x2="27.5" y2="276.8" class="tk"/>
<text transform="translate(27.5,461.9) scale(0.9,1)" class="xt">0</text>
<line x1="55.46" y1="451.3" x2="55.46" y2="449.1" class="tk"/>
<line x1="55.46" y1="274.6" x2="55.46" y2="276.8" class="tk"/>
<text transform="translate(55.46,461.9) scale(0.9,1)" class="xt">100</text>
<line x1="83.42" y1="451.3" x2="83.42" y2="449.1" class="tk"/>
<line x1="83.42" y1="274.6" x2="83.42" y2="276.8" class="tk"/>
<text transform="translate(83.42,461.9) scale(0.9,1)" class="xt">200</text>
<line x1="111.39" y1="451.3" x2="111.39" y2="449.1" class="tk"/>
<line x1="111.39" y1="274.6" x2="111.39" y2="276.8" class="tk"/>
<text transform="translate(111.39,461.9) scale(0.9,1)" class="xt">300</text>
<line x1="139.35" y1="451.3" x2="139.35" y2="449.1" class="tk"/>
<line x1="139.35" y1="274.6" x2="139.35" y2="276.8" class="tk"/>
<text transform="translate(139.35,461.9) scale(0.9,1)" class="xt">400</text>
<line x1="167.31" y1="451.3" x2="167.31" y2="449.1" class="tk"/>
<line x1="167.31" y1="274.6" x2="167.31" y2="276.8" class="tk"/>
<text transform="translate(167.31,461.9) scale(0.9,1)" class="xt">500</text>
<line x1="195.27" y1="451.3" x2="195.27" y2="449.1" class="tk"/>
<line x1="195.27" y1="274.6" x2="195.27" y2="276.8" class="tk"/>
<text transform="translate(195.27,461.9) scale(0.9,1)" class="xt">600</text>
<line x1="223.24" y1="451.3" x2="223.24" y2="449.1" class="tk"/>
<line x1="223.24" y1="274.6" x2="223.24" y2="276.8" class="tk"/>
<text transform="translate(223.24,461.9) scale(0.9,1)" class="xt">700</text>
<line x1="251.2" y1="451.3" x2="251.2" y2="449.1" class="tk"/>
<line x1="251.2" y1="274.6" x2="251.2" y2="276.8" class="tk"/>
<text transform="translate(251.2,461.9) scale(0.9,1)" class="xt">800</text>
<line x1="27.5" y1="274.6" x2="29.7" y2="274.6" class="tk"/>
<line x1="251.2" y1="274.6" x2="249" y2="274.6" class="tk"/>
<text transform="translate(24.3,277.5) scale(0.9,1)" class="yt">0</text>
<line x1="27.5" y1="304.05" x2="29.7" y2="304.05" class="tk"/>
<line x1="251.2" y1="304.05" x2="249" y2="304.05" class="tk"/>
<text transform="translate(24.3,306.95) scale(0.9,1)" class="yt">-10</text>
<line x1="27.5" y1="333.5" x2="29.7" y2="333.5" class="tk"/>
<line x1="251.2" y1="333.5" x2="249" y2="333.5" class="tk"/>
<text transform="translate(24.3,336.4) scale(0.9,1)" class="yt">-20</text>
<line x1="27.5" y1="362.95" x2="29.7" y2="362.95" class="tk"/>
<line x1="251.2" y1="362.95" x2="249" y2="362.95" class="tk"/>
<text transform="translate(24.3,365.85) scale(0.9,1)" class="yt">-30</text>
<line x1="27.5" y1="392.4" x2="29.7" y2="392.4" class="tk"/>
<line x1="251.2" y1="392.4" x2="249" y2="392.4" class="tk"/>
<text transform="translate(24.3,395.3) scale(0.9,1)" class="yt">-40</text>
<line x1="27.5" y1="421.85" x2="29.7" y2="421.85" class="tk"/>
<line x1="251.2" y1="421.85" x2="249" y2="421.85" class="tk"/>
<text transform="translate(24.3,424.75) scale(0.9,1)" class="yt">-50</text>
<line x1="27.5" y1="451.3" x2="29.7" y2="451.3" class="tk"/>
<line x1="251.2" y1="451.3" x2="249" y2="451.3" class="tk"/>
<text transform="translate(24.3,454.2) scale(0.9,1)" class="yt">-60</text>
<path class="cv" d="M27.63,383.64 L27.88,381.73 L28.13,380.17 L28.39,378.93 L28.64,377.98 L28.89,377.32 L29.15,376.93 L29.40,376.80 L29.66,376.95 L29.91,377.41 L30.17,378.18 L30.43,379.28 L30.69,380.74 L30.94,382.59 L31.20,384.88 L31.46,387.67 L31.71,391.04 L31.97,395.07 L32.23,399.81 L32.49,405.07 L32.74,409.92 L33.00,412.10 L33.26,409.96 L33.51,405.15 L33.77,399.88 L34.02,395.10 L34.28,390.97 L34.54,387.48 L34.79,384.52 L35.05,382.04 L35.31,379.96 L35.56,378.24 L35.82,376.83 L36.08,375.72 L36.33,374.87 L36.59,374.27 L36.84,373.92 L37.10,373.80 L37.35,373.95 L37.60,374.39 L37.85,375.15 L38.10,376.22 L38.35,377.64 L38.60,379.43 L38.85,381.64 L39.10,384.30 L39.35,387.48 L39.60,391.21 L39.85,395.46 L40.10,399.97 L40.35,403.86 L40.60,405.50 L40.86,403.81 L41.11,399.82 L41.37,395.20 L41.62,390.83 L41.88,386.96 L42.14,383.63 L42.39,380.78 L42.65,378.37 L42.91,376.35 L43.16,374.66 L43.42,373.28 L43.68,372.19 L43.93,371.35 L44.19,370.76 L44.44,370.42 L44.70,370.30 L44.96,370.45 L45.23,370.92 L45.49,371.70 L45.76,372.82 L46.02,374.31 L46.29,376.21 L46.55,378.56 L46.81,381.44 L47.08,384.96 L47.34,389.23 L47.61,394.37 L47.87,400.32 L48.14,406.19 L48.40,409.00 L48.66,406.57 L48.92,401.27 L49.19,395.66 L49.45,390.66 L49.71,386.41 L49.98,382.84 L50.24,379.83 L50.50,377.32 L50.76,375.21 L51.02,373.47 L51.29,372.06 L51.55,370.93 L51.81,370.07 L52.08,369.47 L52.34,369.12 L52.60,369.00 L52.86,369.18 L53.12,369.73 L53.38,370.66 L53.65,372.01 L53.91,373.80 L54.17,376.11 L54.43,379.03 L54.69,382.68 L54.95,387.28 L55.22,393.09 L55.48,400.43 L55.74,408.89 L56.00,413.80 L56.26,409.41 L56.52,401.46 L56.79,394.30 L57.05,388.47 L57.31,383.75 L57.58,379.89 L57.84,376.71 L58.10,374.08 L58.36,371.89 L58.62,370.09 L58.89,368.63 L59.15,367.48 L59.41,366.60 L59.68,365.98 L59.94,365.62 L60.20,365.50 L60.46,365.68 L60.72,366.23 L60.98,367.16 L61.25,368.49 L61.51,370.28 L61.77,372.58 L62.03,375.48 L62.29,379.10 L62.55,383.64 L62.82,389.35 L63.08,396.48 L63.34,404.50 L63.60,409.00 L63.86,405.04 L64.12,397.59 L64.38,390.66 L64.64,384.93 L64.89,380.24 L65.15,376.37 L65.41,373.15 L65.67,370.46 L65.93,368.20 L66.19,366.31 L66.45,364.74 L66.71,363.46 L66.96,362.44 L67.22,361.67 L67.48,361.13 L67.74,360.81 L68.00,360.70 L68.25,360.86 L68.50,361.33 L68.75,362.13 L69.00,363.28 L69.25,364.80 L69.50,366.75 L69.75,369.19 L70.00,372.19 L70.25,375.90 L70.50,380.50 L70.75,386.23 L71.00,393.31 L71.25,401.16 L71.50,405.50 L71.76,400.61 L72.03,392.13 L72.29,384.70 L72.55,378.75 L72.81,373.96 L73.08,370.07 L73.34,366.86 L73.60,364.21 L73.86,362.01 L74.12,360.21 L74.39,358.74 L74.65,357.58 L74.91,356.70 L75.17,356.09 L75.44,355.72 L75.70,355.60 L75.96,355.76 L76.23,356.24 L76.49,357.06 L76.76,358.23 L77.02,359.79 L77.29,361.79 L77.55,364.30 L77.81,367.42 L78.08,371.32 L78.34,376.25 L78.61,382.63 L78.87,391.16 L79.14,402.52 L79.40,411.00 L79.66,402.63 L79.92,391.33 L80.18,382.80 L80.44,376.38 L80.70,371.39 L80.96,367.41 L81.22,364.19 L81.48,361.57 L81.74,359.44 L82.00,357.73 L82.26,356.38 L82.52,355.37 L82.78,354.66 L83.04,354.24 L83.30,354.10 L83.56,354.24 L83.82,354.66 L84.08,355.37 L84.34,356.39 L84.60,357.74 L84.86,359.46 L85.12,361.60 L85.38,364.23 L85.64,367.47 L85.90,371.48 L86.16,376.52 L86.42,383.05 L86.68,391.86 L86.94,404.00 L87.20,413.80 L87.45,401.27 L87.70,387.87 L87.95,378.67 L88.20,371.95 L88.45,366.78 L88.70,362.67 L88.95,359.33 L89.20,356.59 L89.45,354.34 L89.70,352.49 L89.95,350.99 L90.20,349.81 L90.45,348.92 L90.70,348.29 L90.95,347.92 L91.20,347.80 L91.45,347.95 L91.70,348.42 L91.95,349.22 L92.20,350.35 L92.45,351.86 L92.70,353.78 L92.95,356.17 L93.20,359.12 L93.45,362.73 L93.70,367.16 L93.95,372.58 L94.20,379.05 L94.45,385.78 L94.70,389.20 L94.95,384.37 L95.20,375.96 L95.45,368.56 L95.70,362.63 L95.95,357.85 L96.20,353.96 L96.45,350.76 L96.70,348.11 L96.95,345.91 L97.20,344.10 L97.45,342.64 L97.70,341.48 L97.95,340.60 L98.20,339.99 L98.45,339.62 L98.70,339.50 L98.96,339.64 L99.22,340.04 L99.48,340.74 L99.74,341.72 L100.00,343.03 L100.26,344.69 L100.52,346.73 L100.78,349.23 L101.04,352.27 L101.30,355.95 L101.56,360.42 L101.82,365.86 L102.08,372.31 L102.34,378.95 L102.60,382.30 L102.86,377.57 L103.12,369.26 L103.38,361.94 L103.64,356.06 L103.90,351.35 L104.16,347.53 L104.42,344.41 L104.68,341.85 L104.94,339.76 L105.20,338.08 L105.46,336.75 L105.72,335.75 L105.98,335.05 L106.24,334.64 L106.50,334.50 L106.76,334.66 L107.01,335.13 L107.27,335.93 L107.53,337.07 L107.79,338.60 L108.04,340.54 L108.30,342.96 L108.56,345.96 L108.81,349.64 L109.07,354.20 L109.33,359.86 L109.59,366.81 L109.84,374.39 L110.10,378.50 L110.35,370.73 L110.61,359.80 L110.86,351.35 L111.11,344.91 L111.36,339.86 L111.62,335.78 L111.87,332.43 L112.12,329.65 L112.38,327.33 L112.63,325.40 L112.88,323.80 L113.14,322.50 L113.39,321.47 L113.64,320.69 L113.89,320.13 L114.15,319.81 L114.40,319.70 L114.65,319.91 L114.90,320.54 L115.15,321.62 L115.40,323.17 L115.65,325.25 L115.90,327.94 L116.15,331.34 L116.40,335.63 L116.65,340.97 L116.90,347.47 L117.15,354.34 L117.40,357.90 L117.65,351.50 L117.90,341.01 L118.15,332.14 L118.41,325.00 L118.66,319.13 L118.91,314.17 L119.16,309.90 L119.41,306.16 L119.66,302.84 L119.92,299.88 L120.17,297.20 L120.42,294.77 L120.67,292.56 L120.92,290.54 L121.17,288.70 L121.42,287.01 L121.68,285.47 L121.93,284.05 L122.18,282.76 L122.43,281.59 L122.68,280.52 L122.93,279.55 L123.18,278.68 L123.44,277.90 L123.69,277.22 L123.94,276.62 L124.19,276.10 L124.44,275.67 L124.69,275.32 L124.95,275.05 L125.20,274.85 L125.45,274.74 L125.70,274.70 L125.95,274.74 L126.20,274.85 L126.45,275.05 L126.71,275.32 L126.96,275.67 L127.21,276.11 L127.46,276.62 L127.71,277.22 L127.96,277.91 L128.22,278.69 L128.47,279.56 L128.72,280.53 L128.97,281.60 L129.22,282.78 L129.47,284.07 L129.72,285.49 L129.98,287.04 L130.23,288.73 L130.48,290.59 L130.73,292.61 L130.98,294.84 L131.23,297.28 L131.48,299.98 L131.74,302.98 L131.99,306.35 L132.24,310.16 L132.49,314.54 L132.74,319.68 L132.99,325.89 L133.25,333.75 L133.50,344.49 L133.75,361.50 L134.00,386.90 L134.26,369.92 L134.52,355.23 L134.78,345.82 L135.03,339.20 L135.29,334.26 L135.55,330.49 L135.81,327.58 L136.07,325.35 L136.32,323.71 L136.58,322.58 L136.84,321.92 L137.10,321.70 L137.35,321.80 L137.60,322.09 L137.85,322.58 L138.10,323.28 L138.35,324.20 L138.60,325.35 L138.85,326.77 L139.10,328.47 L139.35,330.49 L139.60,332.90 L139.85,335.77 L140.10,339.21 L140.35,343.40 L140.60,348.60 L140.85,355.28 L141.10,364.30 L141.35,376.92 L141.60,387.60 L141.86,378.27 L142.12,366.44 L142.38,357.78 L142.65,351.40 L142.91,346.51 L143.17,342.69 L143.43,339.68 L143.69,337.30 L143.95,335.46 L144.22,334.09 L144.48,333.14 L144.74,332.58 L145.00,332.40 L145.26,332.52 L145.51,332.89 L145.77,333.51 L146.03,334.39 L146.28,335.56 L146.54,337.04 L146.79,338.86 L147.05,341.08 L147.31,343.76 L147.56,347.02 L147.82,350.99 L148.07,355.91 L148.33,362.12 L148.59,370.12 L148.84,379.91 L149.10,386.20 L149.36,381.92 L149.61,374.13 L149.87,367.09 L150.13,361.37 L150.39,356.79 L150.64,353.08 L150.90,350.08 L151.16,347.65 L151.41,345.70 L151.67,344.18 L151.93,343.03 L152.19,342.23 L152.44,341.76 L152.70,341.60 L152.95,341.72 L153.20,342.09 L153.45,342.70 L153.70,343.58 L153.95,344.74 L154.20,346.21 L154.45,348.01 L154.70,350.21 L154.95,352.86 L155.20,356.06 L155.45,359.96 L155.70,364.74 L155.95,370.68 L156.20,378.09 L156.45,386.54 L156.70,391.40 L156.96,388.12 L157.22,381.57 L157.48,375.18 L157.74,369.77 L158.00,365.32 L158.26,361.65 L158.52,358.62 L158.78,356.13 L159.04,354.08 L159.30,352.43 L159.56,351.12 L159.82,350.14 L160.08,349.44 L160.34,349.04 L160.60,348.90 L160.86,349.04 L161.12,349.45 L161.38,350.14 L161.64,351.14 L161.90,352.46 L162.16,354.13 L162.42,356.19 L162.68,358.73 L162.94,361.80 L163.20,365.56 L163.46,370.15 L163.72,375.82 L163.98,382.70 L164.24,390.14 L164.50,394.10 L164.76,391.68 L165.01,386.42 L165.27,380.87 L165.53,375.96 L165.79,371.83 L166.04,368.39 L166.30,365.56 L166.56,363.24 L166.81,361.37 L167.07,359.90 L167.33,358.79 L167.59,358.01 L167.84,357.55 L168.10,357.40 L168.36,357.56 L168.63,358.02 L168.89,358.82 L169.16,359.96 L169.42,361.47 L169.69,363.39 L169.95,365.79 L170.21,368.75 L170.48,372.38 L170.74,376.84 L171.01,382.32 L171.27,388.91 L171.54,395.83 L171.80,399.40 L172.06,396.10 L172.32,389.52 L172.58,383.11 L172.84,377.69 L173.10,373.23 L173.36,369.55 L173.62,366.53 L173.88,364.03 L174.14,361.98 L174.40,360.33 L174.66,359.02 L174.92,358.04 L175.18,357.34 L175.44,356.94 L175.70,356.80 L175.96,356.92 L176.21,357.26 L176.47,357.85 L176.72,358.68 L176.98,359.77 L177.24,361.14 L177.49,362.82 L177.75,364.84 L178.01,367.23 L178.26,370.05 L178.52,373.35 L178.78,377.16 L179.03,381.45 L179.29,385.95 L179.54,389.79 L179.80,391.40 L180.05,390.06 L180.30,386.77 L180.55,382.79 L180.80,378.90 L181.05,375.40 L181.30,372.38 L181.55,369.82 L181.80,367.69 L182.05,365.95 L182.30,364.57 L182.55,363.52 L182.80,362.78 L183.05,362.34 L183.30,362.20 L183.56,362.34 L183.82,362.75 L184.08,363.46 L184.34,364.46 L184.60,365.80 L184.86,367.49 L185.12,369.60 L185.38,372.18 L185.64,375.33 L185.90,379.21 L186.16,384.02 L186.42,390.09 L186.68,397.83 L186.94,407.05 L187.20,412.70 L187.46,408.48 L187.72,400.75 L187.98,393.71 L188.24,387.97 L188.50,383.33 L188.76,379.55 L189.02,376.46 L189.28,373.91 L189.54,371.84 L189.80,370.16 L190.06,368.84 L190.32,367.85 L190.58,367.15 L190.84,366.74 L191.10,366.60 L191.35,366.72 L191.60,367.09 L191.85,367.72 L192.10,368.61 L192.35,369.78 L192.60,371.27 L192.85,373.12 L193.10,375.36 L193.35,378.09 L193.60,381.40 L193.85,385.47 L194.10,390.57 L194.35,397.14 L194.60,405.99 L194.85,418.16 L195.10,428.00 L195.36,418.30 L195.62,406.23 L195.88,397.43 L196.14,390.91 L196.40,385.87 L196.66,381.86 L196.92,378.63 L197.18,376.00 L197.44,373.86 L197.70,372.14 L197.96,370.79 L198.22,369.77 L198.48,369.06 L198.74,368.64 L199.00,368.50 L199.26,368.66 L199.53,369.13 L199.79,369.94 L200.06,371.10 L200.32,372.64 L200.59,374.61 L200.85,377.08 L201.11,380.14 L201.38,383.93 L201.64,388.67 L201.91,394.68 L202.17,402.34 L202.44,411.45 L202.70,417.00 L202.95,412.07 L203.21,403.57 L203.46,396.15 L203.71,390.22 L203.97,385.49 L204.22,381.65 L204.47,378.52 L204.73,375.96 L204.98,373.87 L205.23,372.18 L205.49,370.86 L205.74,369.85 L205.99,369.15 L206.25,368.74 L206.50,368.60 L206.76,368.72 L207.01,369.09 L207.27,369.71 L207.53,370.59 L207.78,371.76 L208.04,373.24 L208.29,375.06 L208.55,377.28 L208.81,379.97 L209.06,383.23 L209.32,387.22 L209.57,392.15 L209.83,398.40 L210.09,406.48 L210.34,416.47 L210.60,423.00 L210.86,417.24 L211.12,407.92 L211.38,400.14 L211.64,394.05 L211.90,389.23 L212.16,385.34 L212.42,382.18 L212.68,379.60 L212.94,377.49 L213.20,375.80 L213.46,374.47 L213.72,373.46 L213.98,372.75 L214.24,372.34 L214.50,372.20 L214.76,372.34 L215.02,372.76 L215.28,373.47 L215.54,374.49 L215.80,375.85 L216.06,377.57 L216.32,379.72 L216.58,382.36 L216.84,385.62 L217.10,389.65 L217.36,394.75 L217.62,401.38 L217.88,410.46 L218.14,423.47 L218.40,435.10 L218.65,426.45 L218.90,414.96 L219.15,406.34 L219.40,399.86 L219.65,394.80 L219.90,390.76 L220.15,387.46 L220.40,384.74 L220.65,382.50 L220.90,380.66 L221.15,379.18 L221.40,378.00 L221.65,377.11 L221.90,376.49 L222.15,376.12 L222.40,376.00 L222.65,376.15 L222.90,376.60 L223.15,377.37 L223.40,378.46 L223.65,379.91 L223.90,381.74 L224.15,384.00"/>
<text transform="translate(139.35,473) scale(0.83,1)" class="xl">Range(sample)</text>
<text transform="translate(10.4,362.95) rotate(-90) scale(0.86,0.8)" class="yl">Magnitude(dB)</text>
<text x="122" y="501.8" class="cap">(c)</text>
<line x1="359.28" y1="274.6" x2="359.28" y2="451.3" class="gr"/>
<line x1="404.06" y1="274.6" x2="404.06" y2="451.3" class="gr"/>
<line x1="448.84" y1="274.6" x2="448.84" y2="451.3" class="gr"/>
<line x1="493.62" y1="274.6" x2="493.62" y2="451.3" class="gr"/>
<line x1="314.5" y1="296.69" x2="538.4" y2="296.69" class="gr"/>
<line x1="314.5" y1="318.78" x2="538.4" y2="318.78" class="gr"/>
<line x1="314.5" y1="340.86" x2="538.4" y2="340.86" class="gr"/>
<line x1="314.5" y1="362.95" x2="538.4" y2="362.95" class="gr"/>
<line x1="314.5" y1="385.04" x2="538.4" y2="385.04" class="gr"/>
<line x1="314.5" y1="407.12" x2="538.4" y2="407.12" class="gr"/>
<line x1="314.5" y1="429.21" x2="538.4" y2="429.21" class="gr"/>
<rect x="314.5" y="274.6" width="223.9" height="176.7" class="ax"/>
<line x1="314.5" y1="451.3" x2="314.5" y2="449.1" class="tk"/>
<line x1="314.5" y1="274.6" x2="314.5" y2="276.8" class="tk"/>
<text transform="translate(314.5,461.9) scale(0.9,1)" class="xt">0</text>
<line x1="359.28" y1="451.3" x2="359.28" y2="449.1" class="tk"/>
<line x1="359.28" y1="274.6" x2="359.28" y2="276.8" class="tk"/>
<text transform="translate(359.28,461.9) scale(0.9,1)" class="xt">200</text>
<line x1="404.06" y1="451.3" x2="404.06" y2="449.1" class="tk"/>
<line x1="404.06" y1="274.6" x2="404.06" y2="276.8" class="tk"/>
<text transform="translate(404.06,461.9) scale(0.9,1)" class="xt">400</text>
<line x1="448.84" y1="451.3" x2="448.84" y2="449.1" class="tk"/>
<line x1="448.84" y1="274.6" x2="448.84" y2="276.8" class="tk"/>
<text transform="translate(448.84,461.9) scale(0.9,1)" class="xt">600</text>
<line x1="493.62" y1="451.3" x2="493.62" y2="449.1" class="tk"/>
<line x1="493.62" y1="274.6" x2="493.62" y2="276.8" class="tk"/>
<text transform="translate(493.62,461.9) scale(0.9,1)" class="xt">800</text>
<line x1="538.4" y1="451.3" x2="538.4" y2="449.1" class="tk"/>
<line x1="538.4" y1="274.6" x2="538.4" y2="276.8" class="tk"/>
<text transform="translate(538.4,461.9) scale(0.9,1)" class="xt">1000</text>
<line x1="314.5" y1="274.6" x2="316.7" y2="274.6" class="tk"/>
<line x1="538.4" y1="274.6" x2="536.2" y2="274.6" class="tk"/>
<text transform="translate(312.2,277.5) scale(0.9,1)" class="yt">0</text>
<line x1="314.5" y1="296.69" x2="316.7" y2="296.69" class="tk"/>
<line x1="538.4" y1="296.69" x2="536.2" y2="296.69" class="tk"/>
<text transform="translate(312.2,299.59) scale(0.9,1)" class="yt">-10</text>
<line x1="314.5" y1="318.78" x2="316.7" y2="318.78" class="tk"/>
<line x1="538.4" y1="318.78" x2="536.2" y2="318.78" class="tk"/>
<text transform="translate(312.2,321.68) scale(0.9,1)" class="yt">-20</text>
<line x1="314.5" y1="340.86" x2="316.7" y2="340.86" class="tk"/>
<line x1="538.4" y1="340.86" x2="536.2" y2="340.86" class="tk"/>
<text transform="translate(312.2,343.76) scale(0.9,1)" class="yt">-30</text>
<line x1="314.5" y1="362.95" x2="316.7" y2="362.95" class="tk"/>
<line x1="538.4" y1="362.95" x2="536.2" y2="362.95" class="tk"/>
<text transform="translate(312.2,365.85) scale(0.9,1)" class="yt">-40</text>
<line x1="314.5" y1="385.04" x2="316.7" y2="385.04" class="tk"/>
<line x1="538.4" y1="385.04" x2="536.2" y2="385.04" class="tk"/>
<text transform="translate(312.2,387.94) scale(0.9,1)" class="yt">-50</text>
<line x1="314.5" y1="407.12" x2="316.7" y2="407.12" class="tk"/>
<line x1="538.4" y1="407.12" x2="536.2" y2="407.12" class="tk"/>
<text transform="translate(312.2,410.02) scale(0.9,1)" class="yt">-60</text>
<line x1="314.5" y1="429.21" x2="316.7" y2="429.21" class="tk"/>
<line x1="538.4" y1="429.21" x2="536.2" y2="429.21" class="tk"/>
<text transform="translate(312.2,432.11) scale(0.9,1)" class="yt">-70</text>
<line x1="314.5" y1="451.3" x2="316.7" y2="451.3" class="tk"/>
<line x1="538.4" y1="451.3" x2="536.2" y2="451.3" class="tk"/>
<text transform="translate(312.2,454.2) scale(0.9,1)" class="yt">-80</text>
<path class="cv" d="M314.69,367.26 L314.94,365.55 L315.20,364.06 L315.45,362.75 L315.70,361.60 L315.96,360.58 L316.21,359.70 L316.47,358.93 L316.72,358.26 L316.98,357.70 L317.23,357.23 L317.48,356.86 L317.74,356.57 L317.99,356.36 L318.25,356.24 L318.50,356.20 L318.75,356.24 L319.01,356.36 L319.26,356.57 L319.52,356.86 L319.77,357.23 L320.02,357.70 L320.28,358.26 L320.53,358.92 L320.79,359.69 L321.04,360.57 L321.30,361.58 L321.55,362.73 L321.80,364.03 L322.06,365.52 L322.31,367.20 L322.57,369.14 L322.82,371.36 L323.08,373.94 L323.33,376.96 L323.58,380.56 L323.84,384.86 L324.09,389.96 L324.35,395.27 L324.60,398.00 L324.86,393.74 L325.11,386.76 L325.37,380.84 L325.62,376.13 L325.88,372.31 L326.14,369.15 L326.39,366.48 L326.65,364.19 L326.90,362.21 L327.16,360.47 L327.42,358.94 L327.67,357.60 L327.93,356.41 L328.18,355.36 L328.44,354.43 L328.70,353.62 L328.95,352.91 L329.21,352.30 L329.46,351.79 L329.72,351.36 L329.98,351.01 L330.23,350.74 L330.49,350.55 L330.74,350.44 L331.00,350.40 L331.25,350.44 L331.50,350.56 L331.75,350.77 L332.00,351.05 L332.25,351.43 L332.50,351.89 L332.75,352.45 L333.00,353.10 L333.25,353.86 L333.50,354.74 L333.75,355.74 L334.00,356.88 L334.25,358.17 L334.50,359.64 L334.75,361.30 L335.00,363.20 L335.25,365.37 L335.50,367.88 L335.75,370.79 L336.00,374.20 L336.25,378.18 L336.50,382.66 L336.75,386.98 L337.00,389.00 L337.26,385.35 L337.51,378.97 L337.77,373.33 L338.02,368.74 L338.28,364.99 L338.54,361.87 L338.79,359.22 L339.05,356.95 L339.30,354.97 L339.56,353.24 L339.82,351.72 L340.07,350.38 L340.33,349.19 L340.58,348.15 L340.84,347.22 L341.10,346.41 L341.35,345.71 L341.61,345.10 L341.86,344.58 L342.12,344.15 L342.38,343.81 L342.63,343.54 L342.89,343.35 L343.14,343.24 L343.40,343.20 L343.66,343.25 L343.92,343.40 L344.18,343.64 L344.44,343.99 L344.70,344.45 L344.95,345.02 L345.21,345.70 L345.47,346.52 L345.73,347.47 L345.99,348.57 L346.25,349.85 L346.51,351.32 L346.77,353.02 L347.03,355.00 L347.29,357.31 L347.55,360.05 L347.80,363.37 L348.06,367.50 L348.32,372.90 L348.58,380.58 L348.84,393.75 L349.10,437.50 L349.35,391.69 L349.60,378.49 L349.85,370.77 L350.10,365.32 L350.35,361.14 L350.60,357.75 L350.85,354.93 L351.10,352.52 L351.35,350.43 L351.60,348.61 L351.85,346.99 L352.10,345.56 L352.35,344.29 L352.60,343.15 L352.85,342.13 L353.10,341.22 L353.35,340.41 L353.60,339.69 L353.85,339.06 L354.10,338.50 L354.35,338.02 L354.60,337.61 L354.85,337.26 L355.10,336.99 L355.35,336.77 L355.60,336.62 L355.85,336.53 L356.10,336.50 L356.35,336.55 L356.60,336.70 L356.85,336.94 L357.10,337.29 L357.35,337.75 L357.60,338.32 L357.85,339.00 L358.10,339.81 L358.35,340.76 L358.60,341.87 L358.85,343.14 L359.10,344.61 L359.35,346.31 L359.60,348.28 L359.85,350.59 L360.10,353.32 L360.35,356.62 L360.60,360.72 L360.85,366.06 L361.10,373.56 L361.35,385.83 L361.60,405.40 L361.85,382.57 L362.10,370.00 L362.36,362.42 L362.61,357.04 L362.86,352.89 L363.11,349.55 L363.36,346.76 L363.62,344.40 L363.87,342.36 L364.12,340.59 L364.37,339.03 L364.62,337.67 L364.88,336.46 L365.13,335.40 L365.38,334.46 L365.63,333.64 L365.88,332.93 L366.14,332.32 L366.39,331.80 L366.64,331.36 L366.89,331.01 L367.14,330.74 L367.40,330.55 L367.65,330.44 L367.90,330.40 L368.15,330.44 L368.41,330.56 L368.66,330.77 L368.92,331.06 L369.17,331.44 L369.42,331.92 L369.68,332.49 L369.93,333.16 L370.19,333.94 L370.44,334.83 L370.70,335.86 L370.95,337.04 L371.20,338.38 L371.46,339.90 L371.71,341.65 L371.97,343.66 L372.22,346.00 L372.48,348.76 L372.73,352.07 L372.98,356.17 L373.24,361.46 L373.49,368.81 L373.75,380.33 L374.00,394.80 L374.26,376.54 L374.51,364.41 L374.77,356.91 L375.02,351.54 L375.28,347.40 L375.53,344.04 L375.79,341.24 L376.04,338.85 L376.30,336.78 L376.56,334.97 L376.81,333.38 L377.07,331.97 L377.32,330.72 L377.58,329.60 L377.83,328.61 L378.09,327.73 L378.34,326.95 L378.60,326.26 L378.86,325.66 L379.11,325.14 L379.37,324.69 L379.62,324.32 L379.88,324.02 L380.13,323.79 L380.39,323.63 L380.64,323.53 L380.90,323.50 L381.15,323.55 L381.41,323.70 L381.66,323.94 L381.92,324.29 L382.17,324.75 L382.43,325.31 L382.68,326.00 L382.94,326.81 L383.19,327.76 L383.45,328.86 L383.70,330.13 L383.95,331.60 L384.21,333.30 L384.46,335.26 L384.72,337.56 L384.97,340.29 L385.23,343.57 L385.48,347.64 L385.74,352.91 L385.99,360.24 L386.25,371.72 L386.50,386.00 L386.75,368.24 L387.00,356.18 L387.26,348.70 L387.51,343.34 L387.76,339.19 L388.01,335.84 L388.26,333.04 L388.51,330.65 L388.77,328.58 L389.02,326.77 L389.27,325.18 L389.52,323.77 L389.77,322.52 L390.03,321.40 L390.28,320.41 L390.53,319.53 L390.78,318.75 L391.03,318.06 L391.29,317.46 L391.54,316.94 L391.79,316.49 L392.04,316.12 L392.29,315.82 L392.54,315.59 L392.80,315.43 L393.05,315.33 L393.30,315.30 L393.56,315.35 L393.82,315.50 L394.08,315.74 L394.34,316.09 L394.60,316.55 L394.85,317.11 L395.11,317.80 L395.37,318.61 L395.63,319.56 L395.89,320.66 L396.15,321.94 L396.41,323.41 L396.67,325.10 L396.93,327.07 L397.19,329.38 L397.45,332.10 L397.70,335.39 L397.96,339.48 L398.22,344.79 L398.48,352.21 L398.74,364.08 L399.00,380.60 L399.26,358.02 L399.51,345.47 L399.77,337.88 L400.02,332.48 L400.28,328.32 L400.53,324.96 L400.79,322.15 L401.04,319.76 L401.30,317.69 L401.56,315.88 L401.81,314.29 L402.07,312.87 L402.32,311.62 L402.58,310.50 L402.83,309.51 L403.09,308.63 L403.34,307.85 L403.60,307.16 L403.86,306.56 L404.11,306.04 L404.37,305.59 L404.62,305.22 L404.88,304.92 L405.13,304.69 L405.39,304.53 L405.64,304.43 L405.90,304.40 L406.15,304.45 L406.41,304.60 L406.66,304.84 L406.92,305.19 L407.17,305.65 L407.43,306.21 L407.68,306.90 L407.94,307.71 L408.19,308.66 L408.45,309.76 L408.70,311.04 L408.95,312.50 L409.21,314.20 L409.46,316.17 L409.72,318.47 L409.97,321.19 L410.23,324.47 L410.48,328.55 L410.74,333.83 L410.99,341.18 L411.25,352.75 L411.50,367.50 L411.75,348.69 L412.00,336.13 L412.25,328.23 L412.50,322.47 L412.75,317.93 L413.00,314.16 L413.25,310.95 L413.50,308.14 L413.75,305.65 L414.00,303.40 L414.25,301.37 L414.50,299.50 L414.75,297.79 L415.00,296.20 L415.25,294.72 L415.50,293.34 L415.75,292.05 L416.00,290.84 L416.25,289.70 L416.50,288.63 L416.75,287.63 L417.00,286.67 L417.25,285.77 L417.50,284.92 L417.75,284.12 L418.00,283.36 L418.25,282.65 L418.50,281.97 L418.75,281.33 L419.00,280.72 L419.25,280.15 L419.50,279.62 L419.75,279.12 L420.00,278.64 L420.25,278.20 L420.50,277.79 L420.75,277.40 L421.00,277.04 L421.25,276.71 L421.50,276.41 L421.75,276.13 L422.00,275.88 L422.25,275.65 L422.50,275.45 L422.75,275.28 L423.00,275.12 L423.25,274.99 L423.50,274.89 L423.75,274.81 L424.00,274.75 L424.25,274.71 L424.50,274.70 L424.75,274.71 L425.01,274.76 L425.26,274.83 L425.51,274.93 L425.77,275.06 L426.02,275.22 L426.27,275.41 L426.53,275.62 L426.78,275.87 L427.03,276.15 L427.29,276.46 L427.54,276.80 L427.79,277.18 L428.04,277.59 L428.30,278.03 L428.55,278.51 L428.80,279.02 L429.06,279.57 L429.31,280.17 L429.56,280.80 L429.82,281.47 L430.07,282.19 L430.32,282.96 L430.58,283.78 L430.83,284.65 L431.08,285.57 L431.34,286.56 L431.59,287.60 L431.84,288.72 L432.10,289.92 L432.35,291.19 L432.60,292.56 L432.86,294.03 L433.11,295.62 L433.36,297.33 L433.61,299.20 L433.87,301.24 L434.12,303.49 L434.37,305.99 L434.63,308.82 L434.88,312.05 L435.13,315.83 L435.39,320.40 L435.64,326.18 L435.89,334.08 L436.15,346.58 L436.40,364.60 L436.66,350.91 L436.92,339.58 L437.18,332.29 L437.44,327.06 L437.70,323.02 L437.96,319.78 L438.22,317.10 L438.48,314.86 L438.74,312.96 L439.00,311.33 L439.26,309.94 L439.52,308.76 L439.78,307.75 L440.04,306.91 L440.30,306.22 L440.56,305.66 L440.82,305.24 L441.08,304.94 L441.34,304.76 L441.60,304.70 L441.86,304.73 L442.11,304.81 L442.37,304.95 L442.62,305.15 L442.88,305.41 L443.13,305.73 L443.39,306.11 L443.64,306.56 L443.90,307.08 L444.15,307.66 L444.41,308.33 L444.66,309.07 L444.92,309.91 L445.17,310.84 L445.43,311.88 L445.68,313.04 L445.94,314.33 L446.19,315.78 L446.45,317.41 L446.70,319.25 L446.96,321.34 L447.21,323.76 L447.47,326.60 L447.72,329.99 L447.98,334.18 L448.23,339.62 L448.49,347.32 L448.74,360.43 L449.00,396.80 L449.26,367.84 L449.52,354.94 L449.77,347.30 L450.03,341.90 L450.29,337.76 L450.55,334.42 L450.81,331.64 L451.07,329.29 L451.32,327.27 L451.58,325.52 L451.84,323.99 L452.10,322.65 L452.36,321.47 L452.62,320.44 L452.88,319.54 L453.13,318.76 L453.39,318.09 L453.65,317.52 L453.91,317.05 L454.17,316.66 L454.43,316.37 L454.68,316.16 L454.94,316.04 L455.20,316.00 L455.45,316.04 L455.70,316.15 L455.96,316.34 L456.21,316.61 L456.46,316.96 L456.71,317.40 L456.96,317.92 L457.22,318.53 L457.47,319.24 L457.72,320.06 L457.97,321.00 L458.22,322.06 L458.48,323.26 L458.73,324.63 L458.98,326.18 L459.23,327.95 L459.48,329.98 L459.74,332.34 L459.99,335.12 L460.24,338.45 L460.49,342.57 L460.74,347.90 L461.00,355.34 L461.25,367.22 L461.50,383.70 L461.75,370.64 L462.00,359.44 L462.26,352.18 L462.51,346.94 L462.76,342.90 L463.01,339.64 L463.27,336.94 L463.52,334.67 L463.77,332.73 L464.02,331.07 L464.28,329.64 L464.53,328.41 L464.78,327.35 L465.03,326.45 L465.29,325.70 L465.54,325.07 L465.79,324.57 L466.04,324.19 L466.30,323.92 L466.55,323.75 L466.80,323.70 L467.06,323.73 L467.31,323.82 L467.57,323.97 L467.83,324.19 L468.09,324.46 L468.34,324.81 L468.60,325.22 L468.86,325.70 L469.11,326.26 L469.37,326.89 L469.63,327.61 L469.89,328.42 L470.14,329.33 L470.40,330.35 L470.66,331.49 L470.91,332.76 L471.17,334.19 L471.43,335.80 L471.69,337.63 L471.94,339.71 L472.20,342.12 L472.46,344.94 L472.71,348.32 L472.97,352.50 L473.23,357.92 L473.49,365.58 L473.74,378.49 L474.00,407.30 L474.25,382.20 L474.50,369.48 L474.75,361.87 L475.00,356.49 L475.25,352.35 L475.50,349.01 L475.75,346.24 L476.00,343.89 L476.25,341.87 L476.50,340.12 L476.75,338.59 L477.00,337.25 L477.25,336.07 L477.50,335.04 L477.75,334.14 L478.00,333.36 L478.25,332.69 L478.50,332.12 L478.75,331.65 L479.00,331.26 L479.25,330.97 L479.50,330.76 L479.75,330.64 L480.00,330.60 L480.25,330.64 L480.50,330.74 L480.75,330.92 L481.00,331.17 L481.25,331.49 L481.50,331.89 L481.75,332.37 L482.00,332.93 L482.25,333.59 L482.50,334.34 L482.75,335.19 L483.00,336.15 L483.25,337.25 L483.50,338.48 L483.75,339.87 L484.00,341.44 L484.25,343.23 L484.50,345.29 L484.75,347.67 L485.00,350.47 L485.25,353.82 L485.50,357.98 L485.75,363.37 L486.00,370.95 L486.25,383.53 L486.50,406.40 L486.76,386.17 L487.01,373.83 L487.27,366.31 L487.53,360.96 L487.78,356.84 L488.04,353.52 L488.30,350.77 L488.55,348.44 L488.81,346.45 L489.07,344.72 L489.32,343.22 L489.58,341.91 L489.83,340.77 L490.09,339.78 L490.35,338.92 L490.60,338.18 L490.86,337.56 L491.12,337.04 L491.37,336.62 L491.63,336.31 L491.89,336.08 L492.14,335.94 L492.40,335.90 L492.66,335.94 L492.91,336.05 L493.17,336.24 L493.42,336.51 L493.68,336.86 L493.94,337.30 L494.19,337.82 L494.45,338.43 L494.70,339.14 L494.96,339.96 L495.22,340.90 L495.47,341.96 L495.73,343.17 L495.98,344.53 L496.24,346.09 L496.50,347.86 L496.75,349.90 L497.01,352.26 L497.26,355.05 L497.52,358.40 L497.78,362.54 L498.03,367.93 L498.29,375.52 L498.54,388.15 L498.80,411.70 L499.05,392.88 L499.31,380.68 L499.56,373.19 L499.82,367.84 L500.07,363.72 L500.32,360.39 L500.58,357.62 L500.83,355.28 L501.09,353.26 L501.34,351.51 L501.60,349.98 L501.85,348.64 L502.10,347.47 L502.36,346.44 L502.61,345.54 L502.87,344.76 L503.12,344.09 L503.38,343.52 L503.63,343.05 L503.88,342.66 L504.14,342.37 L504.39,342.16 L504.65,342.04 L504.90,342.00 L505.15,342.04 L505.41,342.16 L505.66,342.37 L505.92,342.66 L506.17,343.04 L506.42,343.52 L506.68,344.08 L506.93,344.75 L507.19,345.53 L507.44,346.43 L507.70,347.46 L507.95,348.63 L508.20,349.96 L508.46,351.49 L508.71,353.23 L508.97,355.23 L509.22,357.56 L509.48,360.30 L509.73,363.59 L509.98,367.64 L510.24,372.83 L510.49,379.91 L510.75,390.32 L511.00,400.60 L511.25,393.12 L511.50,383.90 L511.75,377.18 L512.00,372.14 L512.25,368.18 L512.50,364.96 L512.75,362.27 L513.00,360.00 L513.25,358.05 L513.50,356.37 L513.75,354.91 L514.00,353.64 L514.25,352.55 L514.50,351.60 L514.75,350.79 L515.00,350.11 L515.25,349.54 L515.50,349.09 L515.75,348.74 L516.00,348.50 L516.25,348.35 L516.50,348.30 L516.75,348.33 L517.00,348.42 L517.25,348.57 L517.50,348.79 L517.75,349.06 L518.00,349.41 L518.25,349.82 L518.50,350.30 L518.75,350.85 L519.00,351.49 L519.25,352.20 L519.50,353.01 L519.75,353.92 L520.00,354.93 L520.25,356.07 L520.50,357.34 L520.75,358.76 L521.00,360.37 L521.25,362.18 L521.50,364.25 L521.75,366.63 L522.00,369.42 L522.25,372.75 L522.50,376.82 L522.75,382.03 L523.00,389.10 L523.25,399.45 L523.50,409.50 L523.76,400.88 L524.01,391.13 L524.27,384.25 L524.53,379.16 L524.79,375.18 L525.04,371.96 L525.30,369.29 L525.56,367.03 L525.81,365.11 L526.07,363.45 L526.33,362.03 L526.59,360.80 L526.84,359.74 L527.10,358.85 L527.36,358.09 L527.61,357.47 L527.87,356.97 L528.13,356.59 L528.39,356.31 L528.64,356.15 L528.90,356.10 L529.15,356.12 L529.40,356.18 L529.65,356.27 L529.91,356.41 L530.16,356.58 L530.41,356.80 L530.66,357.05 L530.91,357.35 L531.16,357.69 L531.41,358.08 L531.67,358.51 L531.92,358.99 L532.17,359.53 L532.42,360.11 L532.67,360.76 L532.92,361.47 L533.17,362.24 L533.43,363.08 L533.68,364.00"/>
<text transform="translate(426.45,473) scale(0.83,1)" class="xl">Azimuth(sample)</text>
<text transform="translate(298,362.95) rotate(-90) scale(0.86,0.8)" class="yl">Magnitude(dB)</text>
<text x="409.5" y="501.8" class="cap">(d)</text>
</svg></body></html>
